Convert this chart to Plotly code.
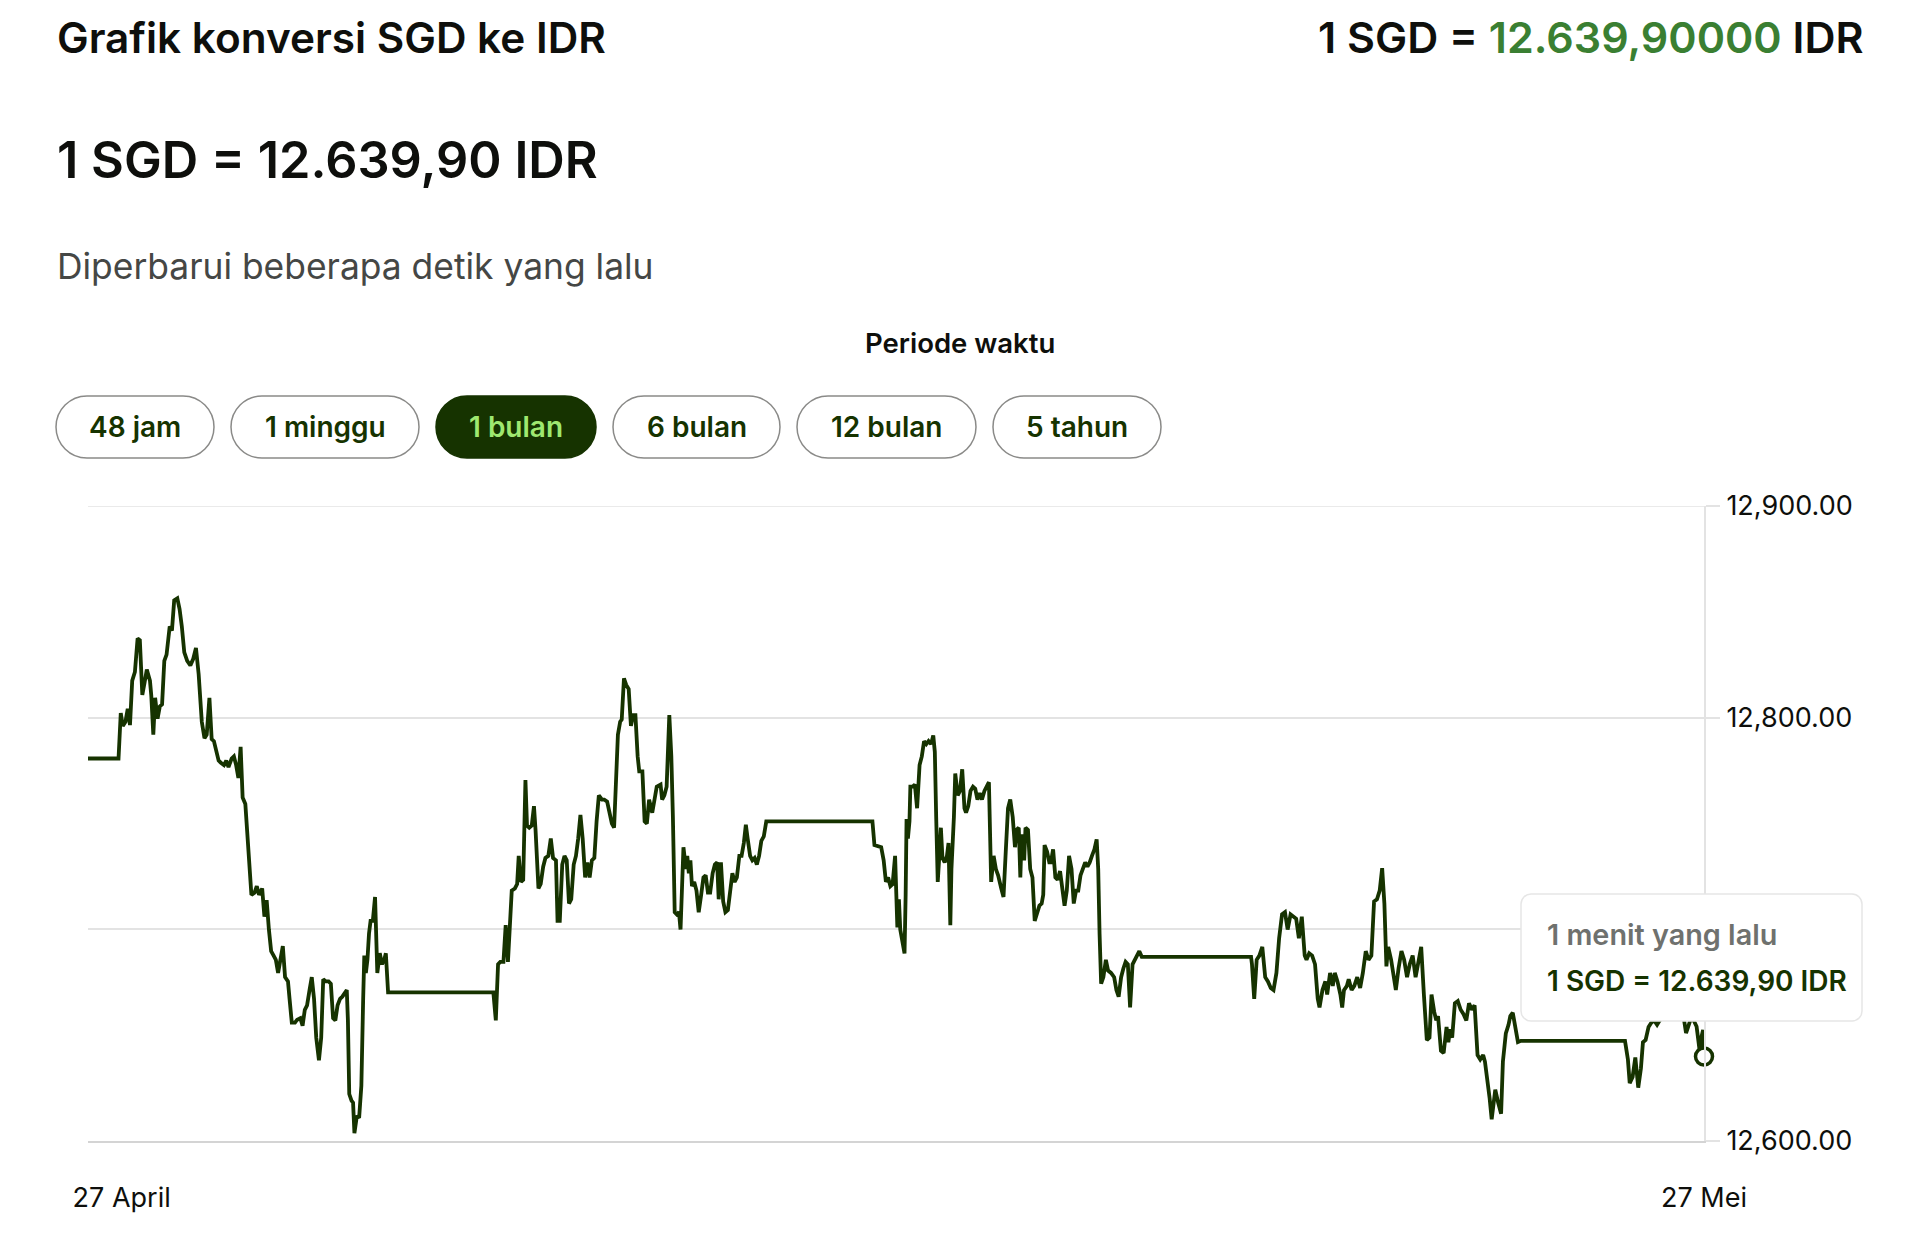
import datetime as dt
import plotly.graph_objects as go

# ---------------- data ----------------
HOURS = [
    0, 13.6, 14.6, 15.5, 16.7, 17.7, 18.7, 19.7, 20.9, 22.1,
    23.1, 24.2, 25.2, 26.2, 27.6, 28.2, 29.1, 29.9, 31.0, 32.0,
    33.0, 34.0, 35.0, 36.4, 37.4, 38.4, 39.8, 40.8, 41.8, 42.9,
    44.2, 45.6, 46.9, 48.1, 49.3, 50.7, 51.9, 52.9, 54.1, 55.1,
    56.1, 57.2, 58.2, 59.2, 60.6, 61.6, 62.6, 64.0, 65.0, 66.0,
    67.0, 68.0, 68.9, 70.1, 71.1, 72.0, 72.8, 74.2, 75.2, 76.2,
    77.6, 78.6, 79.6, 80.6, 81.6, 82.7, 83.7, 84.7, 85.7, 86.8,
    87.8, 89.1, 89.8, 90.8, 92.2, 93.2, 94.6, 95.6, 96.6, 97.6,
    98.7, 99.7, 100.7, 101.7, 102.9, 103.9, 104.8, 106.0, 107.2, 108.2,
    109.2, 110.2, 111.2, 112.3, 113.3, 114.3, 115.3, 115.8, 116.4, 117.4,
    118.1, 118.7, 119.8, 120.8, 121.8, 122.6, 123.1, 123.8, 124.5, 125.2,
    125.9, 126.9, 127.9, 128.9, 130.0, 131.0, 132.0, 132.7, 133.7, 180.6,
    181.7, 182.7, 183.7, 185.1, 186.1, 187.1, 188.1, 188.8, 190.2, 191.2,
    191.9, 192.9, 193.9, 194.9, 195.6, 196.6, 197.7, 198.7, 199.4, 200.0,
    200.7, 201.7, 202.8, 203.8, 205.1, 206.2, 207.2, 208.5, 209.2, 210.2,
    211.3, 212.3, 213.3, 214.3, 215.3, 216.4, 217.4, 218.4, 219.4, 220.4,
    221.5, 222.5, 223.5, 224.5, 225.6, 226.6, 227.6, 229.0, 230.0, 231.3,
    232.4, 233.4, 234.4, 235.4, 236.1, 237.1, 237.8, 238.8, 239.8, 240.9,
    241.9, 242.9, 243.9, 244.9, 245.6, 247.0, 248.0, 249.0, 250.0, 251.4,
    252.4, 253.4, 255.1, 255.8, 256.8, 257.8, 259.0, 259.9, 260.6, 261.4,
    262.3, 263.3, 264.0, 264.7, 265.3, 266.4, 267.0, 267.7, 268.4, 269.1,
    270.1, 271.1, 272.1, 273.2, 274.2, 275.2, 276.2, 277.2, 278.3, 279.3,
    280.3, 281.0, 282.0, 283.0, 284.0, 285.1, 286.1, 287.1, 288.1, 289.1,
    290.2, 291.2, 292.2, 293.1, 293.9, 295.0, 296.0, 297.0, 298.0, 299.0,
    300.0, 301.1, 302.2, 349.5, 350.4, 351.7, 353.4, 354.5, 355.5, 356.5,
    357.5, 358.5, 359.6, 360.6, 361.3, 361.9, 363.0, 363.8, 364.3, 364.7,
    365.3, 366.0, 366.4, 367.4, 368.4, 369.4, 370.5, 371.5, 372.5, 373.5,
    374.5, 375.6, 376.6, 377.3, 377.9, 378.6, 379.3, 380.0, 380.7, 381.7,
    382.7, 383.4, 384.2, 384.7, 385.8, 386.4, 387.5, 388.5, 389.5, 390.5,
    391.2, 392.2, 393.2, 394.3, 395.3, 396.3, 397.3, 398.3, 399.4, 400.4,
    401.4, 402.4, 403.5, 404.5, 405.5, 406.9, 407.9, 408.9, 409.9, 410.9,
    412.0, 413.0, 413.7, 414.7, 415.4, 416.0, 417.1, 417.7, 418.8, 419.8,
    420.8, 421.8, 422.8, 423.9, 424.9, 425.6, 426.2, 427.3, 428.3, 429.0,
    430.0, 431.0, 432.0, 433.1, 434.1, 435.1, 436.1, 437.1, 438.2, 439.2,
    440.2, 441.2, 442.2, 443.3, 444.3, 445.3, 446.3, 447.3, 448.4, 449.4,
    450.1, 450.7, 451.4, 452.4, 453.5, 454.5, 455.8, 457.2, 458.2, 459.2,
    460.3, 461.3, 462.3, 463.3, 464.3, 465.4, 466.4, 467.4, 468.4, 469.5,
    518.2, 518.6, 519.6, 520.7, 521.9, 523.2, 524.5, 525.7, 527.0, 528.2,
    529.5, 530.7, 532.0, 533.3, 534.5, 535.8, 537.0, 538.3, 539.5, 540.8,
    542.1, 542.9, 544.1, 545.4, 546.7, 547.9, 548.7, 550.0, 551.3, 552.1,
    553.4, 554.6, 555.5, 556.7, 558.0, 558.8, 559.6, 560.9, 561.7, 563.0,
    564.2, 565.5, 566.8, 568.0, 569.3, 570.5, 571.8, 573.0, 574.3, 575.5,
    576.6, 577.6, 578.5, 579.3, 580.6, 581.4, 582.7, 583.9, 585.2, 586.4,
    587.7, 588.9, 590.2, 591.5, 592.7, 594.0, 595.2, 596.5, 597.7, 598.6,
    599.8, 600.7, 601.5, 602.8, 604.0, 605.3, 606.1, 606.9, 607.8, 609.0,
    610.3, 611.6, 612.8, 614.1, 615.3, 616.6, 617.8, 619.1, 620.3, 621.6,
    622.4, 623.7, 624.5, 625.4, 626.2, 627.0, 628.3, 629.6, 630.4, 631.7,
    632.9, 633.7, 634.8, 635.8, 637.1, 638.4, 684.8, 686.1, 686.9, 688.2,
    689.4, 690.7, 691.9, 692.8, 694.0, 695.3, 696.5, 697.8, 699.1, 700.3,
    701.6, 702.8, 705.0, 708.0, 711.0, 712.0, 713.0, 714.5, 716.7, 717.4,
    718.2, 718.9, 719.6, 720.0,
]

RATE = [
    12780.7, 12780.7, 12802.2, 12796.1, 12798.1, 12804.2, 12796.5, 12817.5, 12821.6, 12837.4,
    12836.6, 12810.8, 12816.5, 12822.7, 12817.5, 12810.4, 12792.0, 12809.4, 12799.5, 12805.3,
    12806.3, 12826.8, 12829.8, 12843.1, 12841.1, 12855.4, 12856.4, 12851.3, 12843.1, 12830.8,
    12826.8, 12824.7, 12827.8, 12832.9, 12820.6, 12798.1, 12790.3, 12792.0, 12809.4, 12789.9,
    12788.9, 12783.8, 12779.7, 12778.7, 12777.6, 12779.7, 12776.6, 12780.7, 12781.7, 12777.6,
    12771.5, 12786.2, 12762.3, 12759.2, 12744.9, 12728.5, 12716.3, 12717.3, 12720.4, 12716.3,
    12719.3, 12706.0, 12713.8, 12699.9, 12689.7, 12687.6, 12685.6, 12679.4, 12685.6, 12692.1,
    12677.4, 12675.4, 12667.2, 12655.9, 12655.9, 12657.3, 12658.0, 12654.5, 12662.0, 12664.1,
    12671.3, 12677.4, 12667.2, 12648.8, 12638.1, 12648.8, 12676.4, 12675.4, 12675.4, 12674.3,
    12658.0, 12657.0, 12664.1, 12667.2, 12668.2, 12670.2, 12671.3, 12657.0, 12622.2, 12619.1,
    12618.1, 12603.7, 12611.9, 12610.9, 12626.2, 12667.2, 12687.6, 12679.4, 12685.6, 12697.9,
    12704.0, 12704.0, 12715.3, 12679.4, 12688.7, 12683.5, 12685.6, 12688.7, 12670.2, 12670.2,
    12657.0, 12683.5, 12684.6, 12684.6, 12702.0, 12684.6, 12702.0, 12718.3, 12719.3, 12721.4,
    12734.7, 12722.4, 12723.4, 12770.5, 12749.0, 12748.0, 12749.0, 12758.2, 12747.0, 12730.6,
    12719.3, 12721.4, 12729.6, 12733.7, 12734.7, 12742.9, 12733.7, 12732.6, 12704.0, 12704.0,
    12730.6, 12734.7, 12732.6, 12712.2, 12714.2, 12730.6, 12734.7, 12742.9, 12754.1, 12742.9,
    12724.5, 12731.6, 12724.5, 12732.6, 12733.7, 12751.0, 12763.3, 12761.3, 12761.3, 12760.3,
    12755.1, 12750.0, 12748.0, 12769.5, 12792.0, 12798.1, 12799.1, 12818.6, 12815.5, 12813.5,
    12796.1, 12801.2, 12801.2, 12781.7, 12774.6, 12774.6, 12751.0, 12750.0, 12761.3, 12755.1,
    12762.3, 12767.4, 12768.4, 12761.3, 12763.3, 12767.4, 12801.2, 12781.7, 12753.1, 12708.1,
    12707.1, 12708.1, 12699.9, 12724.5, 12738.8, 12728.5, 12734.7, 12726.5, 12732.6, 12720.4,
    12722.4, 12718.3, 12708.1, 12716.3, 12724.5, 12725.5, 12717.3, 12717.3, 12726.5, 12730.6,
    12731.6, 12714.2, 12731.6, 12713.2, 12708.1, 12709.1, 12718.3, 12726.5, 12722.4, 12724.5,
    12734.7, 12734.7, 12740.8, 12749.4, 12742.9, 12734.7, 12732.6, 12733.7, 12730.6, 12734.7,
    12741.8, 12743.9, 12751.0, 12751.0, 12739.8, 12739.2, 12738.8, 12732.6, 12722.4, 12724.5,
    12720.4, 12721.4, 12734.7, 12700.9, 12714.2, 12699.9, 12691.7, 12688.6, 12716.3, 12752.1,
    12742.9, 12751.0, 12767.4, 12767.4, 12768.4, 12757.2, 12777.6, 12781.7, 12788.9, 12787.5,
    12788.9, 12787.5, 12791.6, 12783.8, 12753.1, 12722.4, 12734.7, 12748.0, 12733.7, 12731.6,
    12734.7, 12740.8, 12702.0, 12728.5, 12753.1, 12773.6, 12763.3, 12765.4, 12775.6, 12757.2,
    12755.1, 12758.2, 12765.4, 12767.4, 12766.4, 12761.3, 12764.3, 12761.3, 12765.4, 12767.4,
    12769.5, 12722.4, 12734.7, 12728.5, 12725.5, 12719.3, 12715.3, 12736.7, 12757.2, 12761.3,
    12753.1, 12738.8, 12747.0, 12748.0, 12724.5, 12744.9, 12732.6, 12748.0, 12747.0, 12728.5,
    12724.5, 12704.0, 12708.1, 12711.2, 12712.2, 12716.3, 12739.8, 12736.7, 12731.6, 12731.6,
    12737.8, 12724.5, 12723.4, 12727.5, 12719.3, 12711.2, 12718.3, 12734.7, 12728.5, 12712.2,
    12718.3, 12718.3, 12725.5, 12728.5, 12731.6, 12729.6, 12731.6, 12734.7, 12737.8, 12742.5,
    12728.5, 12697.9, 12674.3, 12677.4, 12685.6, 12680.5, 12679.4, 12677.4, 12671.3, 12668.2,
    12677.4, 12681.5, 12684.6, 12683.5, 12663.1, 12683.5, 12685.6, 12687.6, 12689.7, 12687.0,
    12687.0, 12683.5, 12667.2, 12685.6, 12687.6, 12691.7, 12677.4, 12675.4, 12672.3, 12671.3,
    12679.4, 12695.8, 12707.1, 12708.1, 12699.9, 12707.1, 12706.0, 12705.0, 12695.8, 12706.0,
    12687.6, 12685.6, 12688.7, 12687.6, 12683.5, 12667.2, 12663.1, 12671.3, 12675.4, 12669.2,
    12679.4, 12673.3, 12679.4, 12675.4, 12669.2, 12663.1, 12671.3, 12673.3, 12676.4, 12671.3,
    12673.3, 12677.4, 12672.3, 12679.4, 12689.7, 12685.6, 12687.6, 12713.2, 12714.2, 12718.3,
    12728.9, 12712.2, 12682.5, 12691.7, 12685.6, 12679.4, 12671.3, 12681.5, 12689.7, 12685.6,
    12677.4, 12683.5, 12687.6, 12677.4, 12685.6, 12691.7, 12669.2, 12647.7, 12648.8, 12669.2,
    12661.0, 12657.0, 12659.0, 12642.6, 12641.6, 12653.9, 12646.7, 12652.8, 12648.8, 12665.1,
    12666.1, 12662.0, 12660.0, 12657.0, 12665.1, 12662.0, 12664.1, 12640.6, 12638.5, 12640.6,
    12637.5, 12628.3, 12620.1, 12610.3, 12617.0, 12624.2, 12618.1, 12612.9, 12637.5, 12650.8,
    12654.9, 12659.0, 12660.6, 12654.9, 12646.7, 12647.3, 12647.3, 12638.5, 12627.3, 12630.3,
    12639.5, 12625.2, 12634.4, 12646.7, 12647.7, 12653.9, 12655.9, 12657.0, 12654.9, 12657.0,
    12658.0, 12659.0, 12660.0, 12662.0, 12658.0, 12651.0, 12654.1, 12659.0, 12654.1, 12649.4,
    12641.5, 12649.4, 12652.5, 12639.9,
]
assert len(HOURS) == len(RATE)

X_TICK_HOURS = [15, 720]
X_TICK_TEXT = ["27 April", "27 Mei"]
Y_TICKS = [12600, 12700, 12800, 12900]
# the 12,700.00 label sits under the tooltip in the reference, so it is not shown
Y_TICK_TEXT = ["12,600.00", "", "12,800.00", "12,900.00"]
PERIODS = ["48 jam", "1 minggu", "1 bulan", "6 bulan", "12 bulan", "5 tahun"]
SELECTED = "1 bulan"

START = dt.datetime(2025, 4, 27, 7, 30)
xs = [START + dt.timedelta(hours=h) for h in HOURS]
xticks = [START + dt.timedelta(hours=h) for h in X_TICK_HOURS]

# ---------------- layout helpers ----------------
W, H = 1920, 1244
ML, MR, MT, MB = 88, 216, 506, 103
PW, PH = W - ML - MR, H - MT - MB

FONT = "Inter, 'Noto Sans', sans-serif"
INK = "#0e0f0c"
FOREST = "#163300"
LIME = "#9fe870"
GREEN = "#3a7f32"
GRID = "#e3e3e3"


def pxx(x):
    return (x - ML) / PW


def pxy(y):
    return (H - MB - y) / PH


def rounded_path(x0, x1, y0, y1, r):
    k = 0.5523 * r
    pts = [
        ("M", [(x0 + r, y0)]),
        ("L", [(x1 - r, y0)]),
        ("C", [(x1 - r + k, y0), (x1, y0 + r - k), (x1, y0 + r)]),
        ("L", [(x1, y1 - r)]),
        ("C", [(x1, y1 - r + k), (x1 - r + k, y1), (x1 - r, y1)]),
        ("L", [(x0 + r, y1)]),
        ("C", [(x0 + r - k, y1), (x0, y1 - r + k), (x0, y1 - r)]),
        ("L", [(x0, y0 + r)]),
        ("C", [(x0, y0 + r - k), (x0 + r - k, y0), (x0 + r, y0)]),
    ]
    s = ""
    for cmd, ps in pts:
        s += cmd + " ".join(f"{pxx(a):.5f},{pxy(b):.5f}" for a, b in ps) + " "
    return s + "Z"


fig = go.Figure()
fig.add_trace(go.Scatter(
    x=xs, y=RATE, mode="lines",
    line=dict(color=FOREST, width=3.8),
    hoverinfo="skip", showlegend=False,
))
fig.add_trace(go.Scatter(
    x=[xs[-1]], y=[RATE[-1]], mode="markers",
    marker=dict(size=17, color="white", line=dict(color=FOREST, width=3.5)),
    cliponaxis=False, hoverinfo="skip", showlegend=False,
))

annotations = []
shapes = []

# top gridline (plotly hides the one on the plot edge)
shapes.append(dict(
    type="line", xref="paper", yref="y", x0=0, x1=1,
    y0=Y_TICKS[-1], y1=Y_TICKS[-1],
    line=dict(color=GRID, width=1.5), layer="below",
))


def text(x, y, s, size, weight=400, color=INK, anchor="left"):
    annotations.append(dict(
        x=pxx(x), y=pxy(y), xref="paper", yref="paper", text=s,
        showarrow=False, xanchor=anchor, yanchor="middle",
        font=dict(family=FONT, size=size, color=color, weight=weight),
    ))


text(55, 37, "Grafik konversi SGD ke IDR", 42.3, 600)
text(1866, 37, f"1 SGD = <span style='color:{GREEN}'>12.639,90000</span> IDR", 43, 600, anchor="right")
text(55, 159, "1 SGD = 12.639,90 IDR", 50.5, 600)
text(55, 266, "Diperbarui beberapa detik yang lalu", 35.4, 400, color="#454745")
text(960, 343, "Periode waktu", 27.5, 600, anchor="center")

BUTTONS_X = [(56, 214), (231, 419), (436, 596), (613, 780), (797, 976), (993, 1161)]
BY0, BY1 = 396, 458
for label, (bx0, bx1) in zip(PERIODS, BUTTONS_X):
    sel = label == SELECTED
    shapes.append(dict(
        type="path", xref="paper", yref="paper",
        path=rounded_path(bx0, bx1, BY0, BY1, (BY1 - BY0) / 2),
        fillcolor=FOREST if sel else "white",
        line=dict(color=FOREST if sel else "#8a8a88", width=1.5),
        layer="above",
    ))
    text((bx0 + bx1) / 2, (BY0 + BY1) / 2, label, 28, 600,
         color=LIME if sel else FOREST, anchor="center")

# tooltip
shapes.append(dict(
    type="path", xref="paper", yref="paper",
    path=rounded_path(1521, 1862, 894, 1021, 10),
    fillcolor="white", line=dict(color="#e6e6e6", width=1.5), layer="above",
))
text(1545, 934, "1 menit yang lalu", 28.8, 600, color="#6f716e")
text(1545, 981, "1 SGD = 12.639,90 IDR", 28, 600, color=FOREST)

fig.update_layout(
    width=W, height=H,
    margin=dict(l=ML, r=MR, t=MT, b=MB, pad=0),
    paper_bgcolor="white", plot_bgcolor="white",
    font=dict(family=FONT, color=INK),
    showlegend=False,
    annotations=annotations, shapes=shapes,
    xaxis=dict(
        type="date", range=[xs[0], xs[-1]],
        showgrid=False, zeroline=False,
        showline=True, linecolor="#d4d4d4", linewidth=2,
        tickvals=xticks, ticktext=X_TICK_TEXT, ticks="",
        tickfont=dict(family=FONT, size=27, color=INK),
        ticklabelstandoff=32,
    ),
    yaxis=dict(
        side="right", range=[12600, 12900],
        tickvals=Y_TICKS, ticktext=Y_TICK_TEXT,
        showgrid=True, gridcolor=GRID, gridwidth=1.5,
        zeroline=False,
        showline=True, linecolor=GRID, linewidth=2,
        ticks="outside", ticklen=14, tickcolor=GRID, tickwidth=1.5,
        tickfont=dict(family=FONT, size=27, color=INK),
        ticklabelstandoff=1,
    ),
)

fig.write_html(
    "out.html",
    config={"displayModeBar": False},
    post_script="document.body.style.margin='0';document.body.style.overflow='hidden';",
)
